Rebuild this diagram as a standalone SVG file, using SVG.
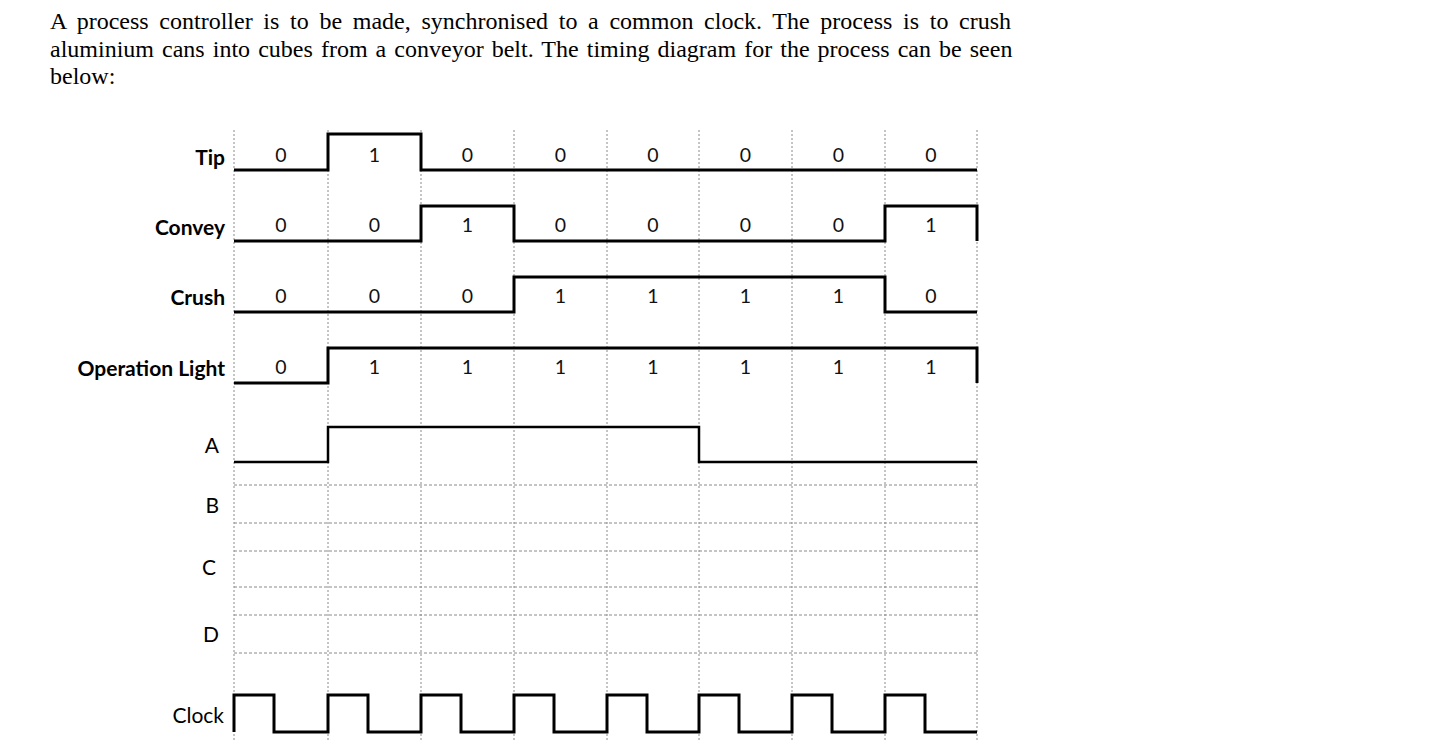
<svg xmlns="http://www.w3.org/2000/svg" width="1436" height="751" viewBox="0 0 1436 751">
<style>
.para{font-family:"Liberation Serif","Times New Roman",serif;font-size:24px;fill:#000}
.lbl{font-family:Lato,"Open Sans","Liberation Sans",sans-serif;font-weight:bold;font-size:21px;fill:#000;text-anchor:end}
.reg{font-family:Lato,"Open Sans","Liberation Sans",sans-serif;font-size:21px;fill:#000;text-anchor:end}
.val{font-family:Lato,"Open Sans","Liberation Sans",sans-serif;font-size:19.5px;fill:#111;text-anchor:middle}
.vg{stroke:#8a8a8a;stroke-width:1;stroke-dasharray:2 2;fill:none}
.hg{stroke:#8a8a8a;stroke-width:1;stroke-dasharray:3 2;fill:none}
.sig{stroke:#000;stroke-width:3;fill:none;stroke-linejoin:miter}
.sigA{stroke:#000;stroke-width:2.5;fill:none}
</style>
<rect width="1436" height="751" fill="#fff"/>
<g id="paragraph">
<text class="para" x="50" y="29" style="word-spacing:4.69px">A process controller is to be made, synchronised to a common clock. The process is to crush</text>
<text class="para" x="50" y="57" style="word-spacing:2.07px">aluminium cans into cubes from a conveyor belt. The timing diagram for the process can be seen</text>
<text class="para" x="50" y="84">below:</text>
</g>
<g id="grid">
<path class="vg" d="M234,130V740M328,130V740M421,130V740M514,130V740M607,130V740M699,130V740M792,130V740M885,130V740M977,130V740"/>
<path class="hg" d="M234,485H977M234,523H977M234,551H977M234,587H977M234,615H977M234,653H977"/>
</g>
<g id="connectors">
<path id="tip-wave" class="sig" d="M234,170H328V134H421V170H977"/>
<path id="convey-wave" class="sig" d="M234,241H421V206H514V241H885V206H977V241"/>
<path id="crush-wave" class="sig" d="M234,312H514V277H885V312H977"/>
<path id="light-wave" class="sig" d="M234,383H328V348H977V383"/>
<path id="a-wave" class="sigA" d="M234,462H328V427H699V462H977"/>
<path id="clock-wave" class="sig" d="M234,732V695H274V732H328V695H368V732H421V695H461V732H514V695H554V732H607V695H647V732H699V695H739V732H792V695H832V732H885V695H925V732H977"/>
</g>
<g id="tip">
<text class="lbl" x="225" y="165">Tip</text>
<text class="val" y="162"><tspan x="281">0</tspan><tspan x="374.5">1</tspan><tspan x="467.5">0</tspan><tspan x="560.5">0</tspan><tspan x="653">0</tspan><tspan x="745.5">0</tspan><tspan x="838.5">0</tspan><tspan x="931">0</tspan></text>
</g>
<g id="convey">
<text class="lbl" x="225" y="235">Convey</text>
<text class="val" y="232"><tspan x="281">0</tspan><tspan x="374.5">0</tspan><tspan x="467.5">1</tspan><tspan x="560.5">0</tspan><tspan x="653">0</tspan><tspan x="745.5">0</tspan><tspan x="838.5">0</tspan><tspan x="931">1</tspan></text>
</g>
<g id="crush">
<text class="lbl" x="225" y="305">Crush</text>
<text class="val" y="303"><tspan x="281">0</tspan><tspan x="374.5">0</tspan><tspan x="467.5">0</tspan><tspan x="560.5">1</tspan><tspan x="653">1</tspan><tspan x="745.5">1</tspan><tspan x="838.5">1</tspan><tspan x="931">0</tspan></text>
</g>
<g id="operation-light">
<text class="lbl" x="225" y="376">Operation Light</text>
<text class="val" y="374"><tspan x="281">0</tspan><tspan x="374.5">1</tspan><tspan x="467.5">1</tspan><tspan x="560.5">1</tspan><tspan x="653">1</tspan><tspan x="745.5">1</tspan><tspan x="838.5">1</tspan><tspan x="931">1</tspan></text>
</g>
<g id="a"><text class="reg" x="219" y="453">A</text></g>
<g id="b"><text class="reg" x="219" y="513">B</text></g>
<g id="c"><text class="reg" x="216" y="575">C</text></g>
<g id="d"><text class="reg" x="219" y="642">D</text></g>
<g id="clock"><text class="reg" x="224" y="723">Clock</text></g>
</svg>
